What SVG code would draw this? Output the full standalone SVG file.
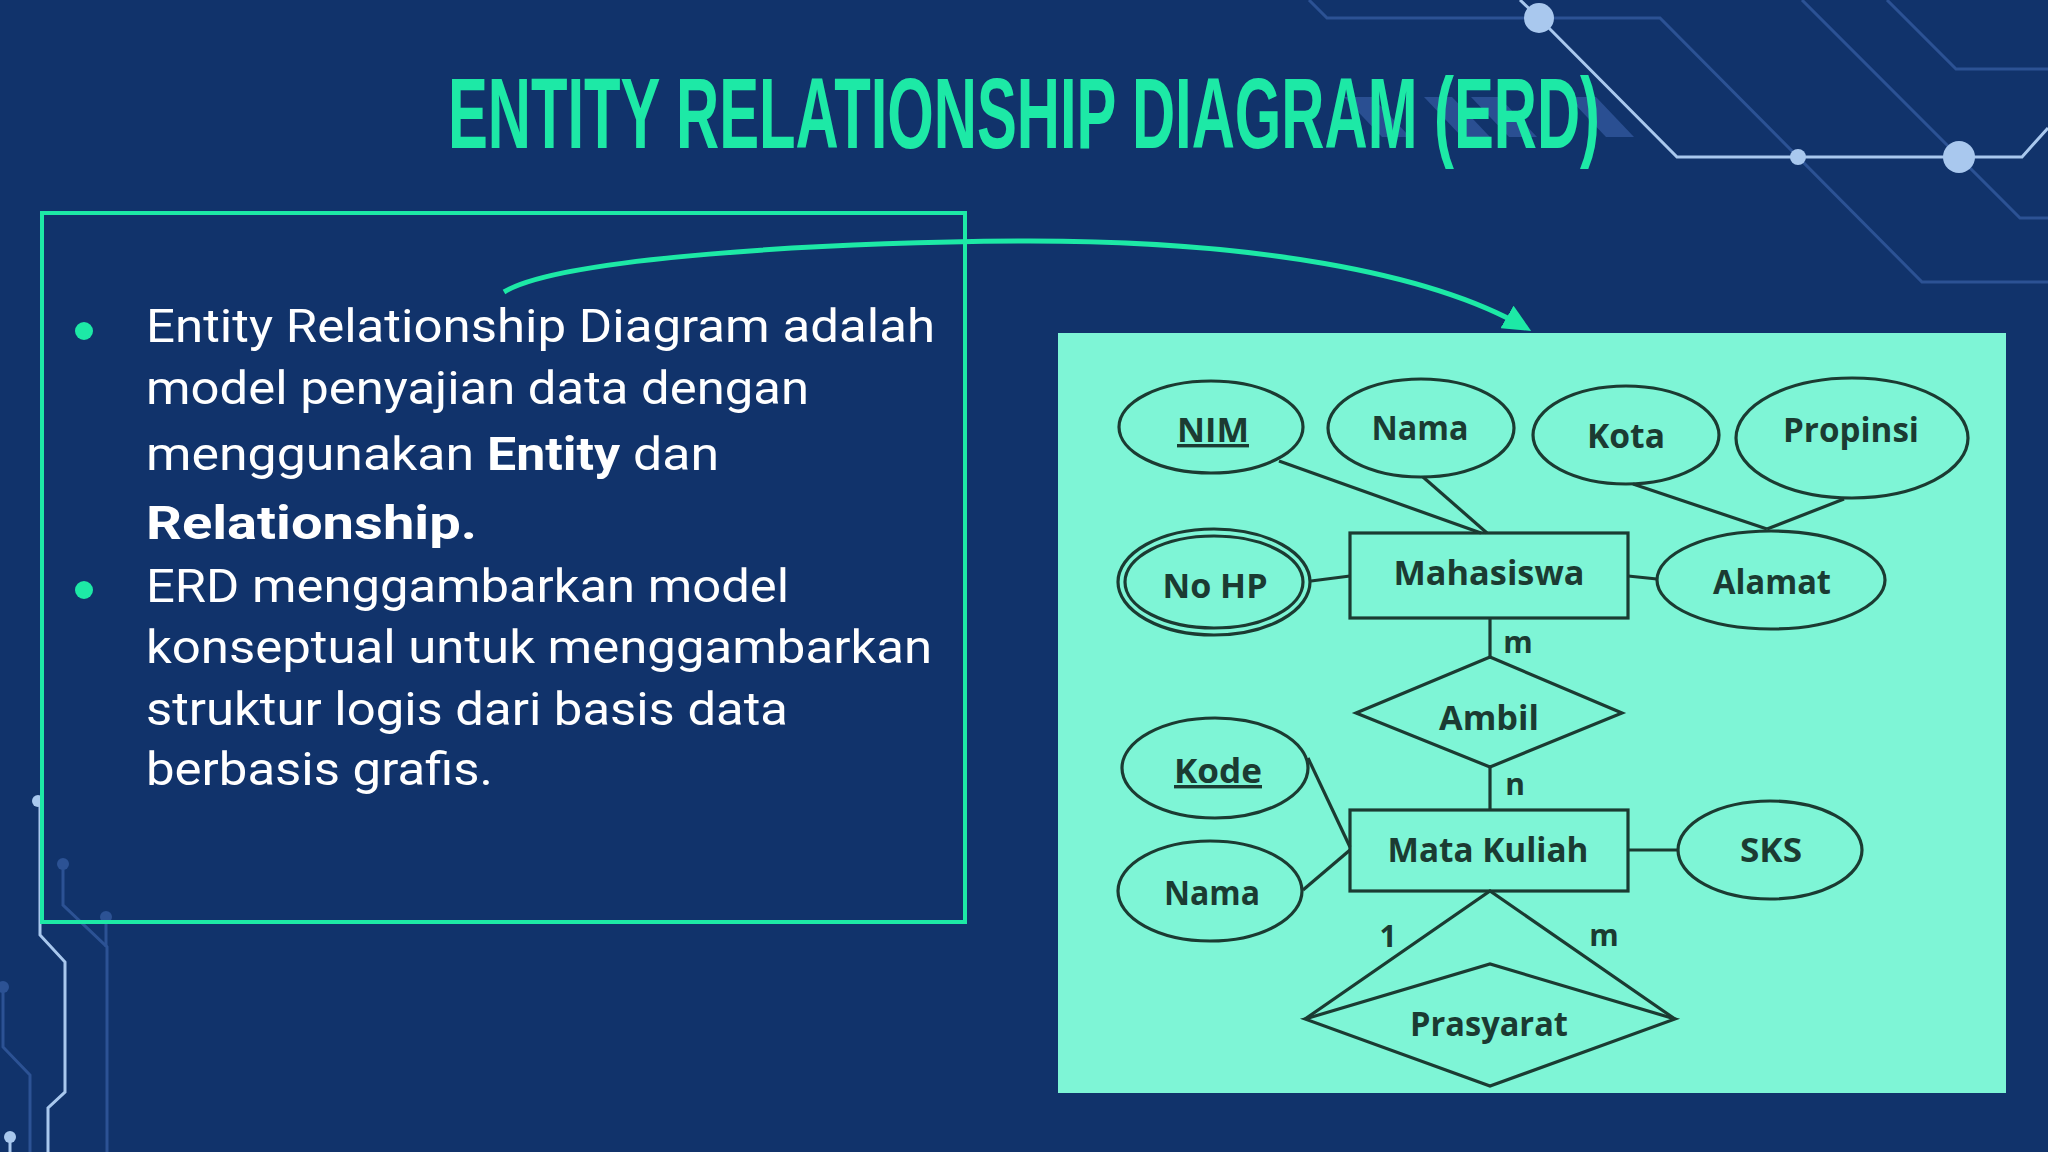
<svg xmlns="http://www.w3.org/2000/svg" width="2048" height="1152" viewBox="0 0 2048 1152">
<defs>
<style>
.bg{fill:#11336b}
.deco{fill:none;stroke:#2c5294;stroke-width:3}
.decob{fill:none;stroke:#a9c8ee;stroke-width:3}
.dotb{fill:#a9c8ee}
.dotf{fill:#2c5294}
.body{font-family:Roboto,"Liberation Sans",sans-serif;font-size:46px;fill:#ffffff}
.b{font-weight:bold}
.erd{fill:none;stroke:#1b3b32;stroke-width:3.2}
.lbl{font-family:"Open Sans","Liberation Sans",sans-serif;font-weight:bold;font-size:34px;fill:#1b3b32;text-anchor:middle}
.card{font-family:"Open Sans","Liberation Sans",sans-serif;font-weight:bold;font-size:30px;fill:#1b3b32;text-anchor:middle}
</style>
<marker id="ah" markerUnits="userSpaceOnUse" markerWidth="28" markerHeight="26" refX="22" refY="13" orient="auto">
<path d="M0,0 L28,13 L0,26 z" fill="#1de9a6"/>
</marker>
</defs>
<rect class="bg" x="0" y="0" width="2048" height="1152"/>

<g id="decoration">
<polygon points="1344,97 1372,97 1410,137 1382,137" fill="#2a4f92"/>
<polygon points="1424,97 1452,97 1490,137 1462,137" fill="#2a4f92"/>
<polygon points="1471,97 1499,97 1537,137 1509,137" fill="#2a4f92"/>
<polygon points="1568,97 1596,97 1634,137 1606,137" fill="#2a4f92"/>
<polyline class="deco" points="1309,0 1327,18 1660,18 1922,282 2048,282"/>
<polyline class="deco" points="1802,0 2020,218 2048,218"/>
<polyline class="deco" points="1887,0 1956,69 2048,69"/>
<polyline class="decob" points="1520,0 1539,18 1677,157 2022,157 2048,128"/>
<circle class="dotb" cx="1539" cy="18" r="15"/>
<circle class="dotb" cx="1798" cy="157" r="8"/>
<circle class="dotb" cx="1959" cy="157" r="16"/>
<polyline class="decob" points="40,801 40,935 65,962 65,1092 48,1108 48,1152"/>
<circle class="dotb" cx="38" cy="801" r="6"/>
<polyline class="deco" points="63,864 63,905 107,947 107,1152"/>
<circle class="dotf" cx="63" cy="864" r="6"/>
<line class="deco" x1="106" y1="917" x2="106" y2="947"/>
<circle class="dotf" cx="106" cy="917" r="6"/>
<polyline class="deco" points="3,987 3,1047 30,1075 30,1152"/>
<circle class="dotf" cx="3" cy="987" r="6"/>
<line class="decob" x1="10" y1="1137" x2="10" y2="1152"/>
<circle class="dotb" cx="10" cy="1137" r="6"/>
</g>

<g id="title">
<text x="448" y="148" textLength="1152" lengthAdjust="spacingAndGlyphs" font-family="'Liberation Sans Narrow','Liberation Sans',sans-serif" font-weight="bold" font-size="100" fill="#1de9a6">ENTITY RELATIONSHIP DIAGRAM (ERD)</text>
</g>

<g id="text-box">
<rect x="42" y="213" width="923" height="709" fill="none" stroke="#1de9a6" stroke-width="4"/>
<circle cx="84" cy="331" r="9" fill="#1de9a6"/>
<circle cx="84" cy="590" r="9" fill="#1de9a6"/>
<text class="body" x="146" y="342" textLength="789" lengthAdjust="spacingAndGlyphs">Entity Relationship Diagram adalah</text>
<text class="body" x="146" y="404" textLength="663" lengthAdjust="spacingAndGlyphs">model penyajian data dengan</text>
<text class="body" x="146" y="470" textLength="573" lengthAdjust="spacingAndGlyphs">menggunakan <tspan class="b">Entity</tspan> dan</text>
<text class="body b" x="146" y="539" font-size="52" textLength="331" lengthAdjust="spacingAndGlyphs">Relationship.</text>
<text class="body" x="146" y="602" textLength="643" lengthAdjust="spacingAndGlyphs">ERD menggambarkan model</text>
<text class="body" x="146" y="663" textLength="786" lengthAdjust="spacingAndGlyphs">konseptual untuk menggambarkan</text>
<text class="body" x="146" y="725" textLength="642" lengthAdjust="spacingAndGlyphs">struktur logis dari basis data</text>
<text class="body" x="146" y="785" textLength="347" lengthAdjust="spacingAndGlyphs">berbasis grafis.</text>
</g>

<g id="connectors">
<path d="M504,292 C560,258 820,242 1030,241 C1250,241 1430,272 1526,328" fill="none" stroke="#1de9a6" stroke-width="5" marker-end="url(#ah)"/>
</g>

<g id="erd-image">
<rect x="1058" y="333" width="948" height="760" fill="#7ef5d6"/>
<g id="erd-lines">
<line class="erd" x1="1279" y1="461" x2="1481" y2="533"/>
<line class="erd" x1="1423" y1="477" x2="1487" y2="533"/>
<line class="erd" x1="1633" y1="484" x2="1767" y2="529"/>
<line class="erd" x1="1844" y1="499" x2="1767" y2="529"/>
<line class="erd" x1="1311" y1="581" x2="1350" y2="576"/>
<line class="erd" x1="1628" y1="576" x2="1657" y2="579"/>
<line class="erd" x1="1490" y1="618" x2="1490" y2="657"/>
<line class="erd" x1="1490" y1="767" x2="1490" y2="810"/>
<line class="erd" x1="1308" y1="758" x2="1350" y2="847"/>
<line class="erd" x1="1303" y1="890" x2="1350" y2="850"/>
<line class="erd" x1="1628" y1="850" x2="1678" y2="850"/>
<polyline class="erd" points="1305,1019 1490,891 1675,1019"/>
</g>
<g id="NIM"><ellipse class="erd" cx="1211" cy="427" rx="92" ry="46"/><text class="lbl" x="1213" y="442" textLength="72" lengthAdjust="spacingAndGlyphs" text-decoration="underline">NIM</text></g>
<g id="Nama1"><ellipse class="erd" cx="1421" cy="428" rx="93" ry="49"/><text class="lbl" x="1420" y="440" textLength="97" lengthAdjust="spacingAndGlyphs">Nama</text></g>
<g id="Kota"><ellipse class="erd" cx="1626" cy="435" rx="93" ry="49"/><text class="lbl" x="1626" y="448" textLength="78" lengthAdjust="spacingAndGlyphs">Kota</text></g>
<g id="Propinsi"><ellipse class="erd" cx="1852" cy="438" rx="116" ry="60"/><text class="lbl" x="1851" y="442" textLength="136" lengthAdjust="spacingAndGlyphs">Propinsi</text></g>
<g id="Mahasiswa"><rect class="erd" x="1350" y="533" width="278" height="85"/><text class="lbl" x="1489" y="585" textLength="191" lengthAdjust="spacingAndGlyphs">Mahasiswa</text></g>
<g id="NoHP"><ellipse class="erd" cx="1214" cy="582" rx="96" ry="53"/><ellipse class="erd" cx="1214" cy="582" rx="89" ry="46"/><text class="lbl" x="1215" y="598" textLength="105" lengthAdjust="spacingAndGlyphs">No HP</text></g>
<g id="Alamat"><ellipse class="erd" cx="1771" cy="580" rx="114" ry="49"/><text class="lbl" x="1772" y="594" textLength="118" lengthAdjust="spacingAndGlyphs">Alamat</text></g>
<g id="Ambil"><polygon class="erd" points="1356,713 1490,657 1622,713 1490,767"/><text class="lbl" x="1489" y="730" textLength="100" lengthAdjust="spacingAndGlyphs">Ambil</text></g>
<g id="Kode"><ellipse class="erd" cx="1215" cy="768" rx="93" ry="50"/><text class="lbl" x="1218" y="783" textLength="88" lengthAdjust="spacingAndGlyphs" text-decoration="underline">Kode</text></g>
<g id="MataKuliah"><rect class="erd" x="1350" y="810" width="278" height="81"/><text class="lbl" x="1488" y="862" textLength="201" lengthAdjust="spacingAndGlyphs">Mata Kuliah</text></g>
<g id="Nama2"><ellipse class="erd" cx="1210" cy="891" rx="92" ry="50"/><text class="lbl" x="1212" y="905" textLength="96" lengthAdjust="spacingAndGlyphs">Nama</text></g>
<g id="SKS"><ellipse class="erd" cx="1770" cy="850" rx="92" ry="49"/><text class="lbl" x="1771" y="862" textLength="62" lengthAdjust="spacingAndGlyphs">SKS</text></g>
<g id="Prasyarat"><polygon class="erd" points="1305,1019 1490,964 1675,1019 1490,1086"/><text class="lbl" x="1489" y="1036" textLength="158" lengthAdjust="spacingAndGlyphs">Prasyarat</text></g>
<text class="card" x="1518" y="653">m</text>
<text class="card" x="1515" y="795">n</text>
<text class="card" x="1388" y="947">1</text>
<text class="card" x="1604" y="946">m</text>
</g>
</svg>
